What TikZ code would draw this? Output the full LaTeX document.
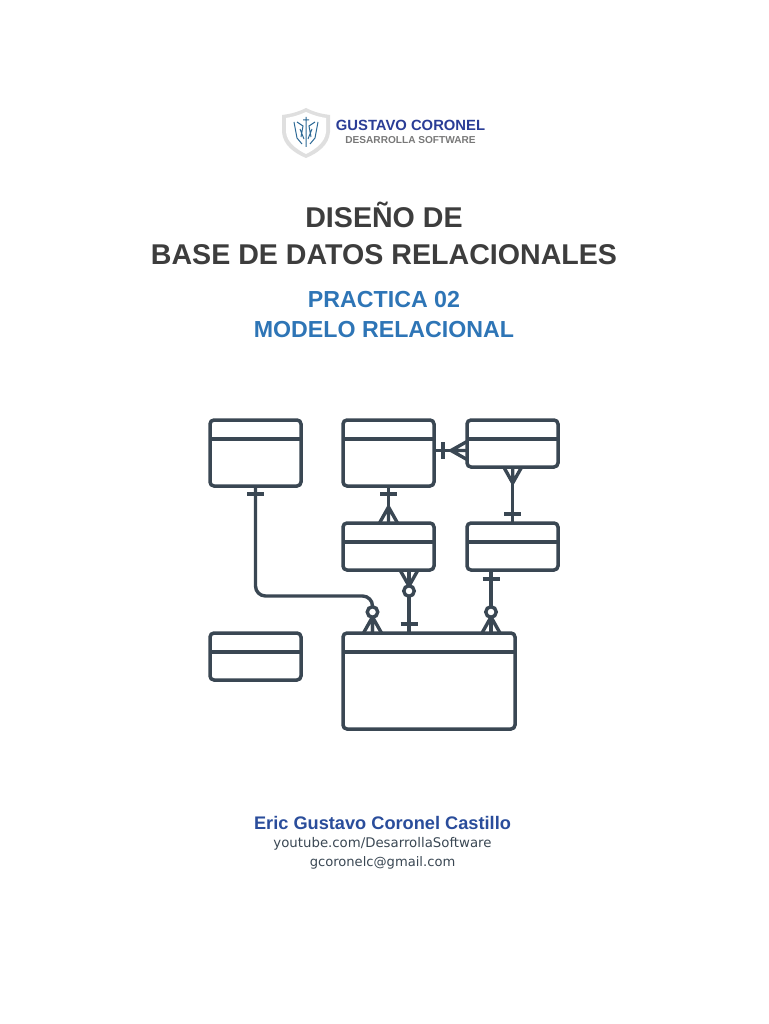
\documentclass[tikz,border=0pt]{standalone}
\usepackage{fontspec}
\setmainfont{Liberation Sans}
\newfontfamily\dejavu{DejaVu Sans}
\usepackage{xcolor}
\definecolor{slate}{RGB}{58,71,83}
\definecolor{titlegray}{RGB}{61,61,61}
\definecolor{practblue}{RGB}{46,117,182}
\definecolor{logoblue}{RGB}{42,61,150}
\definecolor{authorblue}{RGB}{42,77,155}
\definecolor{logogray}{RGB}{120,120,120}
\definecolor{eagleblue}{RGB}{45,105,150}
\usetikzlibrary{positioning}
\tikzset{
  entity/.style={draw=slate,line width=3.5pt,rounded corners=4pt,inner sep=0pt,outer sep=0pt,fill=white},
  header/.style={draw=slate,line width=3.2pt},
  link/.style={draw=slate,line width=3.4pt},
  ring/.style={circle,draw=slate,line width=3.4pt,fill=white,minimum size=10.5pt,inner sep=0pt},
  crow/.pic={\draw[link,line join=round] (0,9) -- (16,0) -- (0,-9) (16,0) -- (0,0);},
  bar/.pic={\draw[link] (0,-8.5) -- (0,8.5);},
  txt/.style={inner sep=0pt,align=center,text=#1},
  title/.style={txt=titlegray,font=\fontsize{28.6}{30}\selectfont\bfseries},
  practice/.style={txt=practblue,font=\fontsize{23.2}{26}\selectfont\bfseries}
}
\begin{document}
\begin{tikzpicture}[x=1pt,y=-1pt]
\useasboundingbox (0,0) rectangle (768,1024);
% logo
\fill[gray!25] (306,108) .. controls (296,113) and (289,114) .. (282,115) -- (282,132) .. controls (283,145) and (294,153) .. (306,158) .. controls (318,153) and (329,145) .. (330,132) -- (330,115) .. controls (323,114) and (316,113) .. (306,108) -- cycle;
\fill[white] (306,112) .. controls (297,116) and (292,117) .. (286,118) -- (286,132) .. controls (287,142) and (296,149) .. (306,154) .. controls (316,149) and (325,142) .. (326,132) -- (326,118) .. controls (320,117) and (315,116) .. (306,112) -- cycle;
\draw[eagleblue,line width=1pt] (306,117) -- (306,147) (303,120) -- (309,120) (294,122) -- (297,138) -- (302,144) (318,122) -- (315,138) -- (310,144) (297,122) -- (303,126) -- (301,137) (315,122) -- (309,126) -- (311,137) (300,129) -- (304,139) (312,129) -- (308,139);
\node[txt=logoblue,font=\fontsize{14.8}{18}\selectfont\bfseries] (logoname) at (410.5,125) {GUSTAVO CORONEL};
\node[txt=logogray,font=\fontsize{10.1}{12}\selectfont\bfseries] (logosub) at (410.5,140.5) {DESARROLLA SOFTWARE};
% titles
\node[title] (title1) at (384,214.5) {DISEÑO DE};
\node[title] (title2) at (384,255) {BASE DE DATOS RELACIONALES};
\node[practice] (pract1) at (384,299.5) {PRACTICA 02};
\node[practice] (pract2) at (384,330) {MODELO RELACIONAL};
% entities
\foreach \name/\x/\y/\w/\h in {entA/210/420/91/66,entB/343/420/91/66,entC/467/420/91/47,entD/343/523/91/47,entE/467/523/91/47,entF/210/633/91/47,entG/343/633/172/96}{
  \node[entity,anchor=north west,minimum width=\w pt,minimum height=\h pt] (\name) at (\x,\y) {};
  \draw[header] ([yshift=-19pt]\name.north west) -- ([yshift=-19pt]\name.north east);
}
% attach points
\coordinate (bc) at (467,450.5);
\coordinate (ce) at (512.7,467);
\coordinate (dg) at (409,570);
\coordinate (gd) at (409,633);
\coordinate (eg) at (491,570);
\coordinate (ge) at (491,633);
\coordinate (ga) at (372.5,633);
% links
\draw[link] (entB.east |- bc) -- (bc);
\draw[link] (ce) -- (ce |- entE.north);
\draw[link] (entB.south) -- (entD.north);
\draw[link] (dg) -- (gd);
\draw[link] (eg) -- (ge);
\draw[link,rounded corners=10pt] (entA.south) -- (255.5,596) -- (372.5,596) -- (ga);
% ends
\pic[rotate=180] at (bc) {crow};
\pic at (443,450.5) {bar};
\pic[rotate=-90] at (ce) {crow};
\pic[rotate=90] at (512.7,514) {bar};
\pic[rotate=90] at (entD.north) {crow};
\pic[rotate=90] at (388.5,494) {bar};
\pic[rotate=-90] at (dg) {crow};
\pic[rotate=90] at (409,624) {bar};
\pic[rotate=90] at (ge) {crow};
\pic[rotate=90] at (491,579) {bar};
\pic[rotate=90] at (ga) {crow};
\pic[rotate=90] at (255.5,494) {bar};
\node[ring] (ringD) at (409,591) {};
\node[ring] (ringE) at (491,612) {};
\node[ring] (ringA) at (372.5,612) {};
% author
\node[txt=authorblue,font=\fontsize{18.2}{20}\selectfont\bfseries] (author) at (382.5,822.5) {Eric Gustavo Coronel Castillo};
\node[txt=slate,font=\dejavu\fontsize{13.3}{16}\selectfont] (youtube) at (382.5,844) {youtube.com/DesarrollaSoftware};
\node[txt=slate,font=\dejavu\fontsize{13.1}{16}\selectfont] (mail) at (382.5,863) {gcoronelc@gmail.com};
\end{tikzpicture}
\end{document}
